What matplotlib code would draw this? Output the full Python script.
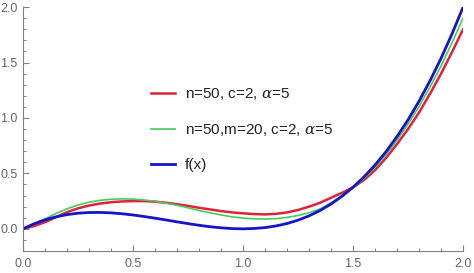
import matplotlib
matplotlib.use("Agg")
import matplotlib.pyplot as plt
from matplotlib.ticker import MultipleLocator

x_vals = [0.00, 0.05, 0.10, 0.15, 0.20, 0.25, 0.30, 0.35, 0.40, 0.45,
          0.50, 0.55, 0.60, 0.65, 0.70, 0.75, 0.80, 0.85, 0.90, 0.95,
          1.00, 1.05, 1.10, 1.15, 1.20, 1.25, 1.30, 1.35, 1.40, 1.45,
          1.50, 1.55, 1.60, 1.65, 1.70, 1.75, 1.80, 1.85, 1.90, 1.95, 2.00]

red_vals = [0.000, 0.025, 0.060, 0.105, 0.150, 0.185, 0.210, 0.228, 0.240, 0.247,
            0.250, 0.250, 0.245, 0.235, 0.222, 0.207, 0.190, 0.175, 0.160, 0.148,
            0.140, 0.133, 0.130, 0.135, 0.148, 0.170, 0.200, 0.235, 0.280, 0.325,
            0.375, 0.440, 0.530, 0.640, 0.765, 0.900, 1.050, 1.220, 1.400, 1.595, 1.800]

green_vals = [0.000, 0.045, 0.090, 0.138, 0.180, 0.215, 0.240, 0.257, 0.267, 0.270,
              0.268, 0.260, 0.248, 0.232, 0.213, 0.190, 0.165, 0.145, 0.125, 0.108,
              0.097, 0.090, 0.088, 0.092, 0.103, 0.120, 0.145, 0.180, 0.235, 0.300,
              0.370, 0.455, 0.555, 0.670, 0.800, 0.945, 1.105, 1.280, 1.470, 1.680, 1.900]

blue_vals = [0.000, 0.045, 0.081, 0.108, 0.128, 0.141, 0.147, 0.148, 0.144, 0.136,
             0.125, 0.111, 0.096, 0.080, 0.063, 0.047, 0.032, 0.019, 0.009, 0.002,
             0.000, 0.003, 0.011, 0.026, 0.048, 0.078, 0.117, 0.165, 0.224, 0.294,
             0.375, 0.469, 0.576, 0.697, 0.833, 0.984, 1.152, 1.337, 1.539, 1.760, 2.000]

labels = ["n=50, c=2, $\\alpha$=5", "n=50,m=20, c=2, $\\alpha$=5", "f(x)"]

plt.rcParams['font.family'] = ['Liberation Sans', 'DejaVu Sans']
plt.rcParams['mathtext.fontset'] = 'dejavuserif'

fig = plt.figure(figsize=(4.74, 2.73), dpi=100)
ax = fig.add_axes([0.0485, 0.0806, 0.9285, 0.8934])

ax.plot(x_vals, red_vals, color='#e0203c', lw=1.8, label=labels[0])
ax.plot(x_vals, green_vals, color='#46cc5a', lw=1.2, label=labels[1])
ax.plot(x_vals, blue_vals, color='#1414c8', lw=2.0, label=labels[2])

ax.set_xlim(0, 2.0)
ax.set_ylim(-0.2, 2.0)
ax.xaxis.set_major_locator(MultipleLocator(0.5))
ax.xaxis.set_minor_locator(MultipleLocator(0.1))
ax.yaxis.set_major_locator(MultipleLocator(0.5))
ax.yaxis.set_minor_locator(MultipleLocator(0.1))
ax.xaxis.set_major_formatter(matplotlib.ticker.FormatStrFormatter('%.1f'))
ax.yaxis.set_major_formatter(matplotlib.ticker.FormatStrFormatter('%.1f'))

for s in ['top', 'right']:
    ax.spines[s].set_visible(False)
for s in ['left', 'bottom']:
    ax.spines[s].set_color('#808080')
    ax.spines[s].set_linewidth(0.8)

ax.tick_params(which='major', direction='in', length=4, width=0.8, color='#808080',
               labelsize=9, labelcolor='#666666')
ax.tick_params(which='minor', direction='in', length=2.5, width=0.7, color='#808080')
ax.tick_params(axis='x', pad=5)
ax.tick_params(axis='y', pad=4)

leg = ax.legend(loc='center left', bbox_to_anchor=(0.29, 0.50), frameon=False,
                fontsize=11, handlelength=1.57, labelspacing=1.3, handletextpad=0.65,
                borderaxespad=0, borderpad=0)
for t in leg.get_texts():
    t.set_color('#222222')

fig.savefig('out.png', dpi=100)
